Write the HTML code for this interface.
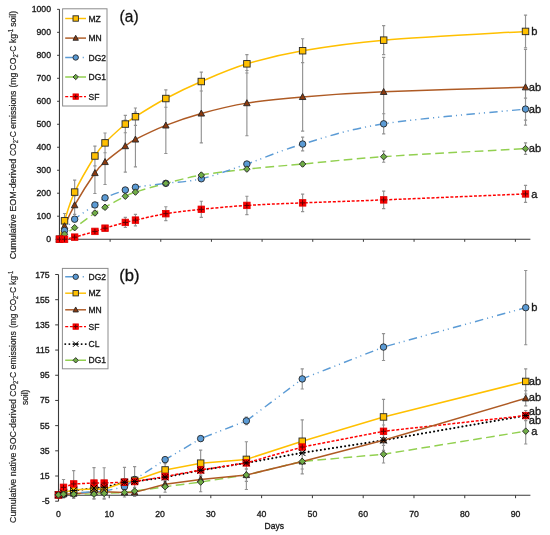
<!DOCTYPE html>
<html><head><meta charset="utf-8"><title>Cumulative CO2-C emissions</title>
<style>
html,body{margin:0;padding:0;background:#fff;}
body{width:550px;height:535px;overflow:hidden;}
svg{display:block;}
svg text{font-family:"Liberation Sans", Arial, sans-serif;fill:#1a1a1a;stroke:#1a1a1a;stroke-width:0.33px;}
svg text.t{fill:#222;stroke:#222;stroke-width:0.2px;}
svg text.p{stroke:#111;stroke-width:0.28px;fill:#111;}
</style></head><body>
<svg width="550" height="535" viewBox="0 0 550 535">
<rect width="550" height="535" fill="#fff"/>
<path d="M59.45,9.35V239.2H530.4" fill="none" stroke="#3a3a3a" stroke-width="1.1"/>
<path d="M57.1,239.20H59.45M57.1,216.21H59.45M57.1,193.23H59.45M57.1,170.25H59.45M57.1,147.26H59.45M57.1,124.27H59.45M57.1,101.29H59.45M57.1,78.30H59.45M57.1,55.32H59.45M57.1,32.33H59.45M57.1,9.35H59.45M110.11,239.2V241.8M160.77,239.2V241.8M211.43,239.2V241.8M262.09,239.2V241.8M312.75,239.2V241.8M363.41,239.2V241.8M414.07,239.2V241.8M464.73,239.2V241.8M515.39,239.2V241.8" stroke="#3a3a3a" stroke-width="1"/>
<text x="51.00" y="242.20" font-size="8.70" text-anchor="end">0</text>
<text x="51.00" y="219.21" font-size="8.70" text-anchor="end">100</text>
<text x="51.00" y="196.23" font-size="8.70" text-anchor="end">200</text>
<text x="51.00" y="173.25" font-size="8.70" text-anchor="end">300</text>
<text x="51.00" y="150.26" font-size="8.70" text-anchor="end">400</text>
<text x="51.00" y="127.27" font-size="8.70" text-anchor="end">500</text>
<text x="51.00" y="104.29" font-size="8.70" text-anchor="end">600</text>
<text x="51.00" y="81.30" font-size="8.70" text-anchor="end">700</text>
<text x="51.00" y="58.32" font-size="8.70" text-anchor="end">800</text>
<text x="51.00" y="35.33" font-size="8.70" text-anchor="end">900</text>
<text x="51.00" y="12.35" font-size="8.70" text-anchor="end">1000</text>
<path d="M64.52,238.51V239.89M62.92,238.51H66.12M62.92,239.89H66.12M74.65,235.98V238.28M73.05,235.98H76.25M73.05,238.28H76.25M94.91,229.55V233.22M93.31,229.55H96.51M93.31,233.22H96.51M105.04,225.87V230.47M103.44,225.87H106.64M103.44,230.47H106.64M125.31,217.36V227.48M123.71,217.36H126.91M123.71,227.48H126.91M135.44,214.38V225.87M133.84,214.38H137.04M133.84,225.87H137.04M165.84,206.79V220.58M164.24,206.79H167.44M164.24,220.58H167.44M201.30,201.27V217.36M199.70,201.27H202.90M199.70,217.36H202.90M246.89,196.22V214.61M245.29,196.22H248.49M245.29,214.61H248.49M302.62,194.15V211.62M301.02,194.15H304.22M301.02,211.62H304.22M383.67,191.16V208.63M382.07,191.16H385.27M382.07,208.63H385.27M525.52,185.42V202.42M523.92,185.42H527.12M523.92,202.42H527.12M64.52,232.99V235.29M62.92,232.99H66.12M62.92,235.29H66.12M74.65,226.56V228.86M73.05,226.56H76.25M73.05,228.86H76.25M94.91,211.16V214.84M93.31,211.16H96.51M93.31,214.84H96.51M105.04,205.41V209.09M103.44,205.41H106.64M103.44,209.09H106.64M125.31,194.38V198.06M123.71,194.38H126.91M123.71,198.06H126.91M135.44,190.24V193.92M133.84,190.24H137.04M133.84,193.92H137.04M165.84,182.20V184.50M164.24,182.20H167.44M164.24,184.50H167.44M201.30,173.23V176.91M199.70,173.23H202.90M199.70,176.91H202.90M246.89,167.26V170.93M245.29,167.26H248.49M245.29,170.93H248.49M302.62,161.74V166.34M301.02,161.74H304.22M301.02,166.34H304.22M383.67,151.17V162.20M382.07,151.17H385.27M382.07,162.20H385.27M525.52,142.89V154.39M523.92,142.89H527.12M523.92,154.39H527.12M64.52,228.63V232.30M62.92,228.63H66.12M62.92,232.30H66.12M74.65,216.90V221.50M73.05,216.90H76.25M73.05,221.50H76.25M94.91,202.65V207.25M93.31,202.65H96.51M93.31,207.25H96.51M105.04,195.53V200.13M103.44,195.53H106.64M103.44,200.13H106.64M125.31,187.71V192.31M123.71,187.71H126.91M123.71,192.31H126.91M135.44,184.96V189.55M133.84,184.96H137.04M133.84,189.55H137.04M165.84,182.20V184.50M164.24,182.20H167.44M164.24,184.50H167.44M201.30,177.60V179.90M199.70,177.60H202.90M199.70,179.90H202.90M246.89,162.20V165.88M245.29,162.20H248.49M245.29,165.88H248.49M302.62,137.15V150.94M301.02,137.15H304.22M301.02,150.94H304.22M383.67,113.70V133.93M382.07,113.70H385.27M382.07,133.93H385.27M525.52,98.07V120.14M523.92,98.07H527.12M523.92,120.14H527.12M64.52,221.50V230.70M62.92,221.50H66.12M62.92,230.70H66.12M74.65,195.99V214.38M73.05,195.99H76.25M73.05,214.38H76.25M94.91,152.55V193.46M93.31,152.55H96.51M93.31,193.46H96.51M105.04,139.45V184.50M103.44,139.45H106.64M103.44,184.50H106.64M125.31,120.14V172.08M123.71,120.14H126.91M123.71,172.08H126.91M135.44,112.09V166.80M133.84,112.09H137.04M133.84,166.80H137.04M165.84,97.38V153.47M164.24,97.38H167.44M164.24,153.47H167.44M201.30,84.05V142.89M199.70,84.05H202.90M199.70,142.89H202.90M246.89,70.49V135.77M245.29,70.49H248.49M245.29,135.77H248.49M302.62,62.68V131.17M301.02,62.68H304.22M301.02,131.17H304.22M383.67,57.39V126.34M382.07,57.39H385.27M382.07,126.34H385.27M525.52,49.34V125.19M523.92,49.34H527.12M523.92,125.19H527.12M64.52,213.46V228.17M62.92,213.46H66.12M62.92,228.17H66.12M74.65,180.13V204.03M73.05,180.13H76.25M73.05,204.03H76.25M94.91,146.11V165.88M93.31,146.11H96.51M93.31,165.88H96.51M105.04,133.01V152.78M103.44,133.01H106.64M103.44,152.78H106.64M125.31,115.31V132.78M123.71,115.31H126.91M123.71,132.78H126.91M135.44,107.96V125.42M133.84,107.96H137.04M133.84,125.42H137.04M165.84,89.80V107.27M164.24,89.80H167.44M164.24,107.27H167.44M201.30,72.10V90.95M199.70,72.10H202.90M199.70,90.95H202.90M246.89,54.63V73.02M245.29,54.63H248.49M245.29,73.02H248.49M302.62,38.77V62.68M301.02,38.77H304.22M301.02,62.68H304.22M383.67,25.67V54.63M382.07,25.67H385.27M382.07,54.63H385.27M525.52,15.10V47.73M523.92,15.10H527.12M523.92,47.73H527.12" stroke="#939393" stroke-width="1.15" fill="none"/>
<path d="M59.45,239.20 C60.29,239.20 61.98,239.54 64.52,239.20 C67.05,238.86 69.58,238.43 74.65,237.13 C79.71,235.83 89.85,232.88 94.91,231.39 C99.98,229.89 99.98,229.66 105.04,228.17 C110.11,226.67 120.24,223.76 125.31,222.42 C130.37,221.08 128.69,221.58 135.44,220.12 C142.19,218.67 154.86,215.49 165.84,213.69 C176.81,211.89 187.79,210.70 201.30,209.32 C214.81,207.94 230.01,206.48 246.89,205.41 C263.78,204.34 279.82,203.80 302.62,202.88 C325.41,201.96 346.52,201.39 383.67,199.90 C420.82,198.40 501.88,194.92 525.52,193.92" fill="none" stroke="#FF0000" stroke-width="1.50" stroke-dasharray="3 1.7" stroke-linecap="butt"/>
<path d="M59.45,239.20 C60.29,238.36 61.98,236.06 64.52,234.14 C67.05,232.23 69.58,231.23 74.65,227.71 C79.71,224.18 89.85,216.41 94.91,213.00 C99.98,209.59 99.98,210.05 105.04,207.25 C110.11,204.45 120.24,198.75 125.31,196.22 C130.37,193.69 128.69,194.23 135.44,192.08 C142.19,189.94 154.86,186.18 165.84,183.35 C176.81,180.51 187.79,177.45 201.30,175.07 C214.81,172.70 230.01,170.93 246.89,169.10 C263.78,167.26 279.82,166.11 302.62,164.04 C325.41,161.97 346.52,159.25 383.67,156.68 C420.82,154.12 501.88,149.98 525.52,148.64" fill="none" stroke="#92D050" stroke-width="1.45" stroke-dasharray="8.7 4.4" stroke-linecap="butt"/>
<path d="M59.45,239.20 C60.29,237.74 61.98,233.80 64.52,230.47 C67.05,227.13 69.58,223.46 74.65,219.20 C79.71,214.95 89.85,208.52 94.91,204.95 C99.98,201.39 99.98,200.32 105.04,197.83 C110.11,195.34 120.24,191.77 125.31,190.01 C130.37,188.25 128.69,188.36 135.44,187.25 C142.19,186.14 154.86,184.76 165.84,183.35 C176.81,181.93 187.79,181.97 201.30,178.75 C214.81,175.53 230.01,169.82 246.89,164.04 C263.78,158.25 279.82,150.75 302.62,144.04 C325.41,137.34 346.52,129.64 383.67,123.82 C420.82,117.99 501.88,111.56 525.52,109.10" fill="none" stroke="#5B9BD5" stroke-width="1.45" stroke-dasharray="8.5 4 1.1 3.9 1.1 4.3" stroke-linecap="butt"/>
<path d="M59.45,239.20 C60.29,237.02 61.98,231.77 64.52,226.10 C67.05,220.43 69.58,214.03 74.65,205.18 C79.71,196.33 89.85,180.21 94.91,173.00 C99.98,165.80 99.98,166.45 105.04,161.97 C110.11,157.49 120.24,149.86 125.31,146.11 C130.37,142.36 128.69,142.89 135.44,139.45 C142.19,136.00 154.86,129.75 165.84,125.42 C176.81,121.10 187.79,117.19 201.30,113.47 C214.81,109.76 230.01,105.89 246.89,103.13 C263.78,100.37 279.82,98.80 302.62,96.92 C325.41,95.05 346.52,93.48 383.67,91.87 C420.82,90.26 501.88,88.04 525.52,87.27" fill="none" stroke="#AE5A24" stroke-width="1.50" stroke-linecap="butt"/>
<path d="M59.45,239.20 C60.29,236.14 61.98,228.67 64.52,220.81 C67.05,212.96 69.58,202.88 74.65,192.08 C79.71,181.28 89.85,164.19 94.91,155.99 C99.98,147.80 99.98,148.22 105.04,142.89 C110.11,137.57 120.24,128.41 125.31,124.05 C130.37,119.68 128.69,120.94 135.44,116.69 C142.19,112.44 154.86,104.39 165.84,98.53 C176.81,92.67 187.79,87.31 201.30,81.52 C214.81,75.74 230.01,68.96 246.89,63.82 C263.78,58.69 279.82,54.67 302.62,50.72 C325.41,46.78 346.52,43.37 383.67,40.15 C420.82,36.93 501.88,32.87 525.52,31.42" fill="none" stroke="#FFC000" stroke-width="1.50" stroke-linecap="butt"/>
<rect x="56.20" y="235.95" width="6.50" height="6.50" fill="#FFC000" stroke="#262626" stroke-width="0.9"/><rect x="61.27" y="217.56" width="6.50" height="6.50" fill="#FFC000" stroke="#262626" stroke-width="0.9"/><rect x="71.40" y="188.83" width="6.50" height="6.50" fill="#FFC000" stroke="#262626" stroke-width="0.9"/><rect x="91.66" y="152.74" width="6.50" height="6.50" fill="#FFC000" stroke="#262626" stroke-width="0.9"/><rect x="101.79" y="139.64" width="6.50" height="6.50" fill="#FFC000" stroke="#262626" stroke-width="0.9"/><rect x="122.06" y="120.80" width="6.50" height="6.50" fill="#FFC000" stroke="#262626" stroke-width="0.9"/><rect x="132.19" y="113.44" width="6.50" height="6.50" fill="#FFC000" stroke="#262626" stroke-width="0.9"/><rect x="162.59" y="95.28" width="6.50" height="6.50" fill="#FFC000" stroke="#262626" stroke-width="0.9"/><rect x="198.05" y="78.27" width="6.50" height="6.50" fill="#FFC000" stroke="#262626" stroke-width="0.9"/><rect x="243.64" y="60.57" width="6.50" height="6.50" fill="#FFC000" stroke="#262626" stroke-width="0.9"/><rect x="299.37" y="47.47" width="6.50" height="6.50" fill="#FFC000" stroke="#262626" stroke-width="0.9"/><rect x="380.42" y="36.90" width="6.50" height="6.50" fill="#FFC000" stroke="#262626" stroke-width="0.9"/><rect x="522.27" y="28.17" width="6.50" height="6.50" fill="#FFC000" stroke="#262626" stroke-width="0.9"/>
<path d="M59.45,235.79L62.70,241.80L56.20,241.80Z" fill="#8B3A0F" stroke="#262626" stroke-width="0.9"/><path d="M64.52,222.69L67.77,228.70L61.27,228.70Z" fill="#8B3A0F" stroke="#262626" stroke-width="0.9"/><path d="M74.65,201.77L77.90,207.78L71.40,207.78Z" fill="#8B3A0F" stroke="#262626" stroke-width="0.9"/><path d="M94.91,169.59L98.16,175.60L91.66,175.60Z" fill="#8B3A0F" stroke="#262626" stroke-width="0.9"/><path d="M105.04,158.56L108.29,164.57L101.79,164.57Z" fill="#8B3A0F" stroke="#262626" stroke-width="0.9"/><path d="M125.31,142.70L128.56,148.71L122.06,148.71Z" fill="#8B3A0F" stroke="#262626" stroke-width="0.9"/><path d="M135.44,136.03L138.69,142.05L132.19,142.05Z" fill="#8B3A0F" stroke="#262626" stroke-width="0.9"/><path d="M165.84,122.01L169.09,128.02L162.59,128.02Z" fill="#8B3A0F" stroke="#262626" stroke-width="0.9"/><path d="M201.30,110.06L204.55,116.07L198.05,116.07Z" fill="#8B3A0F" stroke="#262626" stroke-width="0.9"/><path d="M246.89,99.72L250.14,105.73L243.64,105.73Z" fill="#8B3A0F" stroke="#262626" stroke-width="0.9"/><path d="M302.62,93.51L305.87,99.52L299.37,99.52Z" fill="#8B3A0F" stroke="#262626" stroke-width="0.9"/><path d="M383.67,88.45L386.92,94.47L380.42,94.47Z" fill="#8B3A0F" stroke="#262626" stroke-width="0.9"/><path d="M525.52,83.86L528.77,89.87L522.27,89.87Z" fill="#8B3A0F" stroke="#262626" stroke-width="0.9"/>
<circle cx="59.45" cy="239.20" r="3.25" fill="#5B9BD5" stroke="#262626" stroke-width="0.9"/><circle cx="64.52" cy="230.47" r="3.25" fill="#5B9BD5" stroke="#262626" stroke-width="0.9"/><circle cx="74.65" cy="219.20" r="3.25" fill="#5B9BD5" stroke="#262626" stroke-width="0.9"/><circle cx="94.91" cy="204.95" r="3.25" fill="#5B9BD5" stroke="#262626" stroke-width="0.9"/><circle cx="105.04" cy="197.83" r="3.25" fill="#5B9BD5" stroke="#262626" stroke-width="0.9"/><circle cx="125.31" cy="190.01" r="3.25" fill="#5B9BD5" stroke="#262626" stroke-width="0.9"/><circle cx="135.44" cy="187.25" r="3.25" fill="#5B9BD5" stroke="#262626" stroke-width="0.9"/><circle cx="165.84" cy="183.35" r="3.25" fill="#5B9BD5" stroke="#262626" stroke-width="0.9"/><circle cx="201.30" cy="178.75" r="3.25" fill="#5B9BD5" stroke="#262626" stroke-width="0.9"/><circle cx="246.89" cy="164.04" r="3.25" fill="#5B9BD5" stroke="#262626" stroke-width="0.9"/><circle cx="302.62" cy="144.04" r="3.25" fill="#5B9BD5" stroke="#262626" stroke-width="0.9"/><circle cx="383.67" cy="123.82" r="3.25" fill="#5B9BD5" stroke="#262626" stroke-width="0.9"/><circle cx="525.52" cy="109.10" r="3.25" fill="#5B9BD5" stroke="#262626" stroke-width="0.9"/>
<path d="M59.45,235.95L62.70,239.20L59.45,242.45L56.20,239.20Z" fill="#70AD47" stroke="#262626" stroke-width="0.9"/><path d="M64.52,230.89L67.77,234.14L64.52,237.39L61.27,234.14Z" fill="#70AD47" stroke="#262626" stroke-width="0.9"/><path d="M74.65,224.46L77.90,227.71L74.65,230.96L71.40,227.71Z" fill="#70AD47" stroke="#262626" stroke-width="0.9"/><path d="M94.91,209.75L98.16,213.00L94.91,216.25L91.66,213.00Z" fill="#70AD47" stroke="#262626" stroke-width="0.9"/><path d="M105.04,204.00L108.29,207.25L105.04,210.50L101.79,207.25Z" fill="#70AD47" stroke="#262626" stroke-width="0.9"/><path d="M125.31,192.97L128.56,196.22L125.31,199.47L122.06,196.22Z" fill="#70AD47" stroke="#262626" stroke-width="0.9"/><path d="M135.44,188.83L138.69,192.08L135.44,195.33L132.19,192.08Z" fill="#70AD47" stroke="#262626" stroke-width="0.9"/><path d="M165.84,180.10L169.09,183.35L165.84,186.60L162.59,183.35Z" fill="#70AD47" stroke="#262626" stroke-width="0.9"/><path d="M201.30,171.82L204.55,175.07L201.30,178.32L198.05,175.07Z" fill="#70AD47" stroke="#262626" stroke-width="0.9"/><path d="M246.89,165.85L250.14,169.10L246.89,172.35L243.64,169.10Z" fill="#70AD47" stroke="#262626" stroke-width="0.9"/><path d="M302.62,160.79L305.87,164.04L302.62,167.29L299.37,164.04Z" fill="#70AD47" stroke="#262626" stroke-width="0.9"/><path d="M383.67,153.43L386.92,156.68L383.67,159.93L380.42,156.68Z" fill="#70AD47" stroke="#262626" stroke-width="0.9"/><path d="M525.52,145.39L528.77,148.64L525.52,151.89L522.27,148.64Z" fill="#70AD47" stroke="#262626" stroke-width="0.9"/>
<rect x="56.20" y="235.95" width="6.50" height="6.50" fill="#FF0000" stroke="#E00000" stroke-width="0.8"/><path d="M56.80,239.20H62.10M59.45,236.55V241.85" stroke="#5a0000" stroke-width="1"/><rect x="61.27" y="235.95" width="6.50" height="6.50" fill="#FF0000" stroke="#E00000" stroke-width="0.8"/><path d="M61.87,239.20H67.17M64.52,236.55V241.85" stroke="#5a0000" stroke-width="1"/><rect x="71.40" y="233.88" width="6.50" height="6.50" fill="#FF0000" stroke="#E00000" stroke-width="0.8"/><path d="M72.00,237.13H77.30M74.65,234.48V239.78" stroke="#5a0000" stroke-width="1"/><rect x="91.66" y="228.14" width="6.50" height="6.50" fill="#FF0000" stroke="#E00000" stroke-width="0.8"/><path d="M92.26,231.39H97.56M94.91,228.74V234.04" stroke="#5a0000" stroke-width="1"/><rect x="101.79" y="224.92" width="6.50" height="6.50" fill="#FF0000" stroke="#E00000" stroke-width="0.8"/><path d="M102.39,228.17H107.69M105.04,225.52V230.82" stroke="#5a0000" stroke-width="1"/><rect x="122.06" y="219.17" width="6.50" height="6.50" fill="#FF0000" stroke="#E00000" stroke-width="0.8"/><path d="M122.66,222.42H127.96M125.31,219.77V225.07" stroke="#5a0000" stroke-width="1"/><rect x="132.19" y="216.87" width="6.50" height="6.50" fill="#FF0000" stroke="#E00000" stroke-width="0.8"/><path d="M132.79,220.12H138.09M135.44,217.47V222.77" stroke="#5a0000" stroke-width="1"/><rect x="162.59" y="210.44" width="6.50" height="6.50" fill="#FF0000" stroke="#E00000" stroke-width="0.8"/><path d="M163.19,213.69H168.49M165.84,211.04V216.34" stroke="#5a0000" stroke-width="1"/><rect x="198.05" y="206.07" width="6.50" height="6.50" fill="#FF0000" stroke="#E00000" stroke-width="0.8"/><path d="M198.65,209.32H203.95M201.30,206.67V211.97" stroke="#5a0000" stroke-width="1"/><rect x="243.64" y="202.16" width="6.50" height="6.50" fill="#FF0000" stroke="#E00000" stroke-width="0.8"/><path d="M244.24,205.41H249.54M246.89,202.76V208.06" stroke="#5a0000" stroke-width="1"/><rect x="299.37" y="199.63" width="6.50" height="6.50" fill="#FF0000" stroke="#E00000" stroke-width="0.8"/><path d="M299.97,202.88H305.27M302.62,200.23V205.53" stroke="#5a0000" stroke-width="1"/><rect x="380.42" y="196.65" width="6.50" height="6.50" fill="#FF0000" stroke="#E00000" stroke-width="0.8"/><path d="M381.02,199.90H386.32M383.67,197.25V202.55" stroke="#5a0000" stroke-width="1"/><rect x="522.27" y="190.67" width="6.50" height="6.50" fill="#FF0000" stroke="#E00000" stroke-width="0.8"/><path d="M522.87,193.92H528.17M525.52,191.27V196.57" stroke="#5a0000" stroke-width="1"/>
<rect x="62.6" y="8.8" width="44.4" height="97.2" fill="#fff" stroke="#8c8c8c" stroke-width="1"/>
<path d="M65.2,18.50H86" stroke="#FFC000" stroke-width="1.45"/>
<rect x="73.00" y="15.80" width="5.40" height="5.40" fill="#FFC000" stroke="#262626" stroke-width="0.9"/>
<text x="88.50" y="21.60" font-size="8.50" text-anchor="start">MZ</text>
<path d="M65.2,38.10H86" stroke="#AE5A24" stroke-width="1.45"/>
<path d="M75.70,35.27L78.40,40.26L73.00,40.26Z" fill="#8B3A0F" stroke="#262626" stroke-width="0.9"/>
<text x="88.50" y="41.20" font-size="8.50" text-anchor="start">MN</text>
<path d="M65.2,57.50H86" stroke="#5B9BD5" stroke-width="1.45" stroke-dasharray="8.5 4 1.1 3.9 1.1 4.3"/>
<circle cx="75.70" cy="57.50" r="2.70" fill="#5B9BD5" stroke="#262626" stroke-width="0.9"/>
<text x="88.50" y="60.60" font-size="8.50" text-anchor="start">DG2</text>
<path d="M65.2,77.00H86" stroke="#92D050" stroke-width="1.45" stroke-dasharray="8.7 4.4"/>
<path d="M75.70,74.30L78.40,77.00L75.70,79.70L73.00,77.00Z" fill="#70AD47" stroke="#262626" stroke-width="0.9"/>
<text x="88.50" y="80.10" font-size="8.50" text-anchor="start">DG1</text>
<path d="M65.2,96.60H86" stroke="#FF0000" stroke-width="1.40" stroke-dasharray="3 1.7"/>
<rect x="73.00" y="93.90" width="5.40" height="5.40" fill="#FF0000" stroke="#E00000" stroke-width="0.8"/><path d="M73.60,96.60H77.80M75.70,94.50V98.70" stroke="#5a0000" stroke-width="1"/>
<text x="88.50" y="99.70" font-size="8.50" text-anchor="start">SF</text>
<text x="119.60" y="22.40" font-size="16.80" text-anchor="start" class="p" textLength="19" lengthAdjust="spacingAndGlyphs">(a)</text>
<text x="531.20" y="35.12" font-size="10.90" text-anchor="start" textLength="6.2" lengthAdjust="spacingAndGlyphs">b</text>
<text x="528.80" y="90.97" font-size="10.90" text-anchor="start" textLength="12.4" lengthAdjust="spacingAndGlyphs">ab</text>
<text x="528.80" y="112.80" font-size="10.90" text-anchor="start" textLength="12.4" lengthAdjust="spacingAndGlyphs">ab</text>
<text x="528.80" y="152.34" font-size="10.90" text-anchor="start" textLength="12.4" lengthAdjust="spacingAndGlyphs">ab</text>
<text x="531.20" y="197.62" font-size="10.90" text-anchor="start" textLength="6.2" lengthAdjust="spacingAndGlyphs">a</text>
<text class="t" transform="translate(16.30,259.30) rotate(-90)" font-size="9.80" textLength="100.60" lengthAdjust="spacingAndGlyphs">Cumulative EOM-derived</text>
<text class="t" transform="translate(16.30,156.10) rotate(-90)" font-size="9.80" textLength="65.30" lengthAdjust="spacingAndGlyphs">CO<tspan font-size="6.5" dy="1.9">2</tspan><tspan dy="-1.9">-C emissions</tspan></text>
<text class="t" transform="translate(16.30,87.50) rotate(-90)" font-size="9.80" textLength="76.50" lengthAdjust="spacingAndGlyphs">(mg CO<tspan font-size="6.5" dy="1.9">2</tspan><tspan dy="-1.9">-C kg</tspan><tspan font-size="6.5" dy="-3.4">-1</tspan><tspan dy="3.4"> soil)</tspan></text>
<path d="M58.5,274.5V501.2" fill="none" stroke="#3a3a3a" stroke-width="1.1"/>
<path d="M58.5,495.2H530.4" fill="none" stroke="#3a3a3a" stroke-width="1.1"/>
<path d="M55.2,501.20H58.5M55.2,476.01H58.5M55.2,450.82H58.5M55.2,425.63H58.5M55.2,400.44H58.5M55.2,375.26H58.5M55.2,350.07H58.5M55.2,324.88H58.5M55.2,299.69H58.5M55.2,274.50H58.5M109.24,495.2V498.2M160.03,495.2V498.2M210.82,495.2V498.2M261.61,495.2V498.2M312.40,495.2V498.2M363.19,495.2V498.2M413.98,495.2V498.2M464.77,495.2V498.2M515.56,495.2V498.2" stroke="#3a3a3a" stroke-width="1"/>
<text x="49.70" y="504.20" font-size="8.70" text-anchor="end">-5</text>
<text x="49.70" y="479.01" font-size="8.70" text-anchor="end">15</text>
<text x="49.70" y="453.82" font-size="8.70" text-anchor="end">35</text>
<text x="49.70" y="428.63" font-size="8.70" text-anchor="end">55</text>
<text x="49.70" y="403.44" font-size="8.70" text-anchor="end">75</text>
<text x="49.70" y="378.26" font-size="8.70" text-anchor="end">95</text>
<text x="49.70" y="353.07" font-size="8.70" text-anchor="end">115</text>
<text x="49.70" y="327.88" font-size="8.70" text-anchor="end">135</text>
<text x="49.70" y="302.69" font-size="8.70" text-anchor="end">155</text>
<text x="49.70" y="277.50" font-size="8.70" text-anchor="end">175</text>
<text x="58.45" y="517.30" font-size="8.70" text-anchor="middle">0</text>
<text x="109.24" y="517.30" font-size="8.70" text-anchor="middle">10</text>
<text x="160.03" y="517.30" font-size="8.70" text-anchor="middle">20</text>
<text x="210.82" y="517.30" font-size="8.70" text-anchor="middle">30</text>
<text x="261.61" y="517.30" font-size="8.70" text-anchor="middle">40</text>
<text x="312.40" y="517.30" font-size="8.70" text-anchor="middle">50</text>
<text x="363.19" y="517.30" font-size="8.70" text-anchor="middle">60</text>
<text x="413.98" y="517.30" font-size="8.70" text-anchor="middle">70</text>
<text x="464.77" y="517.30" font-size="8.70" text-anchor="middle">80</text>
<text x="515.56" y="517.30" font-size="8.70" text-anchor="middle">90</text>
<text x="274.30" y="529.00" font-size="8.50" text-anchor="middle">Days</text>
<path d="M63.53,490.37V497.92M61.93,490.37H65.13M61.93,497.92H65.13M73.69,489.99V498.30M72.09,489.99H75.29M72.09,498.30H75.29M94.00,489.23V499.06M92.40,489.23H95.60M92.40,499.06H95.60M104.16,487.60V499.18M102.56,487.60H105.76M102.56,499.18H105.76M124.48,487.97V497.04M122.88,487.97H126.08M122.88,497.04H126.08M134.63,487.34V494.90M133.03,487.34H136.23M133.03,494.90H136.23M165.11,481.17V492.26M163.51,481.17H166.71M163.51,492.26H166.71M200.66,472.36V491.75M199.06,472.36H202.26M199.06,491.75H202.26M246.37,460.52V489.48M244.77,460.52H247.97M244.77,489.48H247.97M302.24,448.93V473.87M300.64,448.93H303.84M300.64,473.87H303.84M383.51,445.41V463.04M381.91,445.41H385.11M381.91,463.04H385.11M525.72,418.33V444.02M524.12,418.33H527.32M524.12,444.02H527.32M63.53,479.54V495.15M61.93,479.54H65.13M61.93,495.15H65.13M73.69,470.59V497.29M72.09,470.59H75.29M72.09,497.29H75.29M94.00,467.57V498.55M92.40,467.57H95.60M92.40,498.55H95.60M104.16,467.70V498.43M102.56,467.70H105.76M102.56,498.43H105.76M124.48,467.32V497.04M122.88,467.32H126.08M122.88,497.04H126.08M134.63,466.69V496.41M133.03,466.69H136.23M133.03,496.41H136.23M165.11,471.48V481.55M163.51,471.48H166.71M163.51,481.55H166.71M200.66,464.93V475.00M199.06,464.93H202.26M199.06,475.00H202.26M246.37,456.61V469.21M244.77,456.61H247.97M244.77,469.21H247.97M302.24,439.49V454.60M300.64,439.49H303.84M300.64,454.60H303.84M383.51,425.00V437.60M381.91,425.00H385.11M381.91,437.60H385.11M525.72,410.52V420.60M524.12,410.52H527.32M524.12,420.60H527.32M63.53,493.01V495.53M61.93,493.01H65.13M61.93,495.53H65.13M73.69,492.38V494.90M72.09,492.38H75.29M72.09,494.90H75.29M94.00,489.48V494.52M92.40,489.48H95.60M92.40,494.52H95.60M104.16,489.23V494.27M102.56,489.23H105.76M102.56,494.27H105.76M124.48,489.86V494.90M122.88,489.86H126.08M122.88,494.90H126.08M134.63,489.86V494.90M133.03,489.86H136.23M133.03,494.90H136.23M165.11,480.54V488.10M163.51,480.54H166.71M163.51,488.10H166.71M200.66,475.63V483.19M199.06,475.63H202.26M199.06,483.19H202.26M246.37,468.70V481.30M244.77,468.70H247.97M244.77,481.30H247.97M302.24,453.84V468.96M300.64,453.84H303.84M300.64,468.96H303.84M383.51,430.17V450.32M381.91,430.17H385.11M381.91,450.32H385.11M525.72,390.75V405.86M524.12,390.75H527.32M524.12,405.86H527.32M63.53,489.86V494.90M61.93,489.86H65.13M61.93,494.90H65.13M73.69,486.08V493.64M72.09,486.08H75.29M72.09,493.64H75.29M94.00,485.20V492.76M92.40,485.20H95.60M92.40,492.76H95.60M104.16,485.45V493.01M102.56,485.45H105.76M102.56,493.01H105.76M124.48,478.53V486.08M122.88,478.53H126.08M122.88,486.08H126.08M134.63,476.64V484.20M133.03,476.64H136.23M133.03,484.20H136.23M165.11,463.67V476.26M163.51,463.67H166.71M163.51,476.26H166.71M200.66,450.07V476.26M199.06,450.07H202.26M199.06,476.26H202.26M246.37,441.75V477.02M244.77,441.75H247.97M244.77,477.02H247.97M302.24,419.84V462.66M300.64,419.84H303.84M300.64,462.66H303.84M383.51,399.31V434.57M381.91,399.31H385.11M381.91,434.57H385.11M525.72,368.83V394.02M524.12,368.83H527.32M524.12,394.02H527.32M63.53,493.01V495.53M61.93,493.01H65.13M61.93,495.53H65.13M73.69,491.75V494.27M72.09,491.75H75.29M72.09,494.27H75.29M94.00,490.49V493.01M92.40,490.49H95.60M92.40,493.01H95.60M104.16,489.86V492.38M102.56,489.86H105.76M102.56,492.38H105.76M124.48,484.32V489.36M122.88,484.32H126.08M122.88,489.36H126.08M134.63,477.02V482.05M133.03,477.02H136.23M133.03,482.05H136.23M165.11,457.12V462.16M163.51,457.12H166.71M163.51,462.16H166.71M200.66,436.09V441.12M199.06,436.09H202.26M199.06,441.12H202.26M246.37,417.07V424.63M244.77,417.07H247.97M244.77,424.63H247.97M302.24,368.83V388.98M300.64,368.83H303.84M300.64,388.98H303.84M383.51,333.57V360.52M381.91,333.57H385.11M381.91,360.52H385.11M525.72,270.47V344.78M524.12,270.47H527.32M524.12,344.78H527.32" stroke="#939393" stroke-width="1.15" fill="none"/>
<path d="M58.45,494.90 L63.53,494.14 L73.69,494.14 L94.00,494.14 L104.16,493.39 L124.48,492.51 L134.63,491.12 L165.11,486.71 L200.66,482.05 L246.37,475.00 L302.24,461.40 L383.51,454.22 L525.72,431.17" fill="none" stroke="#92D050" stroke-width="1.45" stroke-linejoin="round" stroke-dasharray="8.7 4.4" stroke-linecap="butt"/>
<path d="M58.45,494.90 L63.53,493.01 L73.69,490.49 L94.00,487.97 L104.16,487.34 L124.48,482.31 L134.63,481.55 L165.11,477.27 L200.66,470.34 L246.37,462.91 L302.24,452.84 L383.51,440.24 L525.72,415.56" fill="none" stroke="#000000" stroke-width="2.00" stroke-linejoin="round" stroke-dasharray="0.1 4" stroke-linecap="round"/>
<path d="M58.45,494.90 L63.53,487.34 L73.69,483.94 L94.00,483.06 L104.16,483.06 L124.48,482.18 L134.63,481.55 L165.11,476.51 L200.66,469.96 L246.37,462.91 L302.24,447.04 L383.51,431.30 L525.72,415.56" fill="none" stroke="#FF0000" stroke-width="1.50" stroke-linejoin="round" stroke-dasharray="3 1.7" stroke-linecap="butt"/>
<path d="M58.45,494.90 L63.53,494.27 L73.69,493.64 L94.00,492.00 L104.16,491.75 L124.48,492.38 L134.63,492.38 L165.11,484.32 L200.66,479.41 L246.37,475.00 L302.24,461.40 L383.51,440.24 L525.72,398.30" fill="none" stroke="#AE5A24" stroke-width="1.50" stroke-linejoin="round" stroke-linecap="butt"/>
<path d="M58.45,494.90 L63.53,492.38 L73.69,489.86 L94.00,488.98 L104.16,489.23 L124.48,482.31 L134.63,480.42 L165.11,469.96 L200.66,463.16 L246.37,459.38 L302.24,441.25 L383.51,416.94 L525.72,381.43" fill="none" stroke="#FFC000" stroke-width="1.50" stroke-linejoin="round" stroke-linecap="butt"/>
<path d="M58.45,494.90 L63.53,494.27 L73.69,493.01 L94.00,491.75 L104.16,491.12 L124.48,486.84 L134.63,479.54 L165.11,459.64 L200.66,438.60 L246.37,420.85 L302.24,378.91 L383.51,347.05 L525.72,307.63" fill="none" stroke="#5B9BD5" stroke-width="1.45" stroke-linejoin="round" stroke-dasharray="8.5 4 1.1 3.9 1.1 4.3" stroke-linecap="butt"/>
<circle cx="58.45" cy="494.90" r="3.25" fill="#5B9BD5" stroke="#262626" stroke-width="0.9"/><circle cx="63.53" cy="494.27" r="3.25" fill="#5B9BD5" stroke="#262626" stroke-width="0.9"/><circle cx="73.69" cy="493.01" r="3.25" fill="#5B9BD5" stroke="#262626" stroke-width="0.9"/><circle cx="94.00" cy="491.75" r="3.25" fill="#5B9BD5" stroke="#262626" stroke-width="0.9"/><circle cx="104.16" cy="491.12" r="3.25" fill="#5B9BD5" stroke="#262626" stroke-width="0.9"/><circle cx="124.48" cy="486.84" r="3.25" fill="#5B9BD5" stroke="#262626" stroke-width="0.9"/><circle cx="134.63" cy="479.54" r="3.25" fill="#5B9BD5" stroke="#262626" stroke-width="0.9"/><circle cx="165.11" cy="459.64" r="3.25" fill="#5B9BD5" stroke="#262626" stroke-width="0.9"/><circle cx="200.66" cy="438.60" r="3.25" fill="#5B9BD5" stroke="#262626" stroke-width="0.9"/><circle cx="246.37" cy="420.85" r="3.25" fill="#5B9BD5" stroke="#262626" stroke-width="0.9"/><circle cx="302.24" cy="378.91" r="3.25" fill="#5B9BD5" stroke="#262626" stroke-width="0.9"/><circle cx="383.51" cy="347.05" r="3.25" fill="#5B9BD5" stroke="#262626" stroke-width="0.9"/><circle cx="525.72" cy="307.63" r="3.25" fill="#5B9BD5" stroke="#262626" stroke-width="0.9"/>
<rect x="55.20" y="491.65" width="6.50" height="6.50" fill="#FFC000" stroke="#262626" stroke-width="0.9"/><rect x="60.28" y="489.13" width="6.50" height="6.50" fill="#FFC000" stroke="#262626" stroke-width="0.9"/><rect x="70.44" y="486.61" width="6.50" height="6.50" fill="#FFC000" stroke="#262626" stroke-width="0.9"/><rect x="90.75" y="485.73" width="6.50" height="6.50" fill="#FFC000" stroke="#262626" stroke-width="0.9"/><rect x="100.91" y="485.98" width="6.50" height="6.50" fill="#FFC000" stroke="#262626" stroke-width="0.9"/><rect x="121.23" y="479.06" width="6.50" height="6.50" fill="#FFC000" stroke="#262626" stroke-width="0.9"/><rect x="131.38" y="477.17" width="6.50" height="6.50" fill="#FFC000" stroke="#262626" stroke-width="0.9"/><rect x="161.86" y="466.71" width="6.50" height="6.50" fill="#FFC000" stroke="#262626" stroke-width="0.9"/><rect x="197.41" y="459.91" width="6.50" height="6.50" fill="#FFC000" stroke="#262626" stroke-width="0.9"/><rect x="243.12" y="456.13" width="6.50" height="6.50" fill="#FFC000" stroke="#262626" stroke-width="0.9"/><rect x="298.99" y="438.00" width="6.50" height="6.50" fill="#FFC000" stroke="#262626" stroke-width="0.9"/><rect x="380.26" y="413.69" width="6.50" height="6.50" fill="#FFC000" stroke="#262626" stroke-width="0.9"/><rect x="522.47" y="378.18" width="6.50" height="6.50" fill="#FFC000" stroke="#262626" stroke-width="0.9"/>
<path d="M58.45,491.49L61.70,497.50L55.20,497.50Z" fill="#8B3A0F" stroke="#262626" stroke-width="0.9"/><path d="M63.53,490.86L66.78,496.87L60.28,496.87Z" fill="#8B3A0F" stroke="#262626" stroke-width="0.9"/><path d="M73.69,490.23L76.94,496.24L70.44,496.24Z" fill="#8B3A0F" stroke="#262626" stroke-width="0.9"/><path d="M94.00,488.59L97.25,494.60L90.75,494.60Z" fill="#8B3A0F" stroke="#262626" stroke-width="0.9"/><path d="M104.16,488.34L107.41,494.35L100.91,494.35Z" fill="#8B3A0F" stroke="#262626" stroke-width="0.9"/><path d="M124.48,488.97L127.73,494.98L121.23,494.98Z" fill="#8B3A0F" stroke="#262626" stroke-width="0.9"/><path d="M134.63,488.97L137.88,494.98L131.38,494.98Z" fill="#8B3A0F" stroke="#262626" stroke-width="0.9"/><path d="M165.11,480.91L168.36,486.92L161.86,486.92Z" fill="#8B3A0F" stroke="#262626" stroke-width="0.9"/><path d="M200.66,476.00L203.91,482.01L197.41,482.01Z" fill="#8B3A0F" stroke="#262626" stroke-width="0.9"/><path d="M246.37,471.59L249.62,477.60L243.12,477.60Z" fill="#8B3A0F" stroke="#262626" stroke-width="0.9"/><path d="M302.24,457.99L305.49,464.00L298.99,464.00Z" fill="#8B3A0F" stroke="#262626" stroke-width="0.9"/><path d="M383.51,436.83L386.76,442.84L380.26,442.84Z" fill="#8B3A0F" stroke="#262626" stroke-width="0.9"/><path d="M525.72,394.89L528.97,400.90L522.47,400.90Z" fill="#8B3A0F" stroke="#262626" stroke-width="0.9"/>
<rect x="55.20" y="491.65" width="6.50" height="6.50" fill="#FF0000" stroke="#E00000" stroke-width="0.8"/><path d="M55.80,494.90H61.10M58.45,492.25V497.55" stroke="#5a0000" stroke-width="1"/><rect x="60.28" y="484.09" width="6.50" height="6.50" fill="#FF0000" stroke="#E00000" stroke-width="0.8"/><path d="M60.88,487.34H66.18M63.53,484.69V489.99" stroke="#5a0000" stroke-width="1"/><rect x="70.44" y="480.69" width="6.50" height="6.50" fill="#FF0000" stroke="#E00000" stroke-width="0.8"/><path d="M71.04,483.94H76.34M73.69,481.29V486.59" stroke="#5a0000" stroke-width="1"/><rect x="90.75" y="479.81" width="6.50" height="6.50" fill="#FF0000" stroke="#E00000" stroke-width="0.8"/><path d="M91.35,483.06H96.65M94.00,480.41V485.71" stroke="#5a0000" stroke-width="1"/><rect x="100.91" y="479.81" width="6.50" height="6.50" fill="#FF0000" stroke="#E00000" stroke-width="0.8"/><path d="M101.51,483.06H106.81M104.16,480.41V485.71" stroke="#5a0000" stroke-width="1"/><rect x="121.23" y="478.93" width="6.50" height="6.50" fill="#FF0000" stroke="#E00000" stroke-width="0.8"/><path d="M121.83,482.18H127.13M124.48,479.53V484.83" stroke="#5a0000" stroke-width="1"/><rect x="131.38" y="478.30" width="6.50" height="6.50" fill="#FF0000" stroke="#E00000" stroke-width="0.8"/><path d="M131.98,481.55H137.28M134.63,478.90V484.20" stroke="#5a0000" stroke-width="1"/><rect x="161.86" y="473.26" width="6.50" height="6.50" fill="#FF0000" stroke="#E00000" stroke-width="0.8"/><path d="M162.46,476.51H167.76M165.11,473.86V479.16" stroke="#5a0000" stroke-width="1"/><rect x="197.41" y="466.71" width="6.50" height="6.50" fill="#FF0000" stroke="#E00000" stroke-width="0.8"/><path d="M198.01,469.96H203.31M200.66,467.31V472.61" stroke="#5a0000" stroke-width="1"/><rect x="243.12" y="459.66" width="6.50" height="6.50" fill="#FF0000" stroke="#E00000" stroke-width="0.8"/><path d="M243.72,462.91H249.02M246.37,460.26V465.56" stroke="#5a0000" stroke-width="1"/><rect x="298.99" y="443.79" width="6.50" height="6.50" fill="#FF0000" stroke="#E00000" stroke-width="0.8"/><path d="M299.59,447.04H304.89M302.24,444.39V449.69" stroke="#5a0000" stroke-width="1"/><rect x="380.26" y="428.05" width="6.50" height="6.50" fill="#FF0000" stroke="#E00000" stroke-width="0.8"/><path d="M380.86,431.30H386.16M383.51,428.65V433.95" stroke="#5a0000" stroke-width="1"/><rect x="522.47" y="412.31" width="6.50" height="6.50" fill="#FF0000" stroke="#E00000" stroke-width="0.8"/><path d="M523.07,415.56H528.37M525.72,412.91V418.21" stroke="#5a0000" stroke-width="1"/>
<path d="M55.20,491.65L61.70,498.15M55.20,498.15L61.70,491.65M55.20,494.90H61.70" stroke="#000" stroke-width="1" fill="none"/><path d="M60.28,489.76L66.78,496.26M60.28,496.26L66.78,489.76M60.28,493.01H66.78" stroke="#000" stroke-width="1" fill="none"/><path d="M70.44,487.24L76.94,493.74M70.44,493.74L76.94,487.24M70.44,490.49H76.94" stroke="#000" stroke-width="1" fill="none"/><path d="M90.75,484.72L97.25,491.22M90.75,491.22L97.25,484.72M90.75,487.97H97.25" stroke="#000" stroke-width="1" fill="none"/><path d="M100.91,484.09L107.41,490.59M100.91,490.59L107.41,484.09M100.91,487.34H107.41" stroke="#000" stroke-width="1" fill="none"/><path d="M121.23,479.06L127.73,485.56M121.23,485.56L127.73,479.06M121.23,482.31H127.73" stroke="#000" stroke-width="1" fill="none"/><path d="M131.38,478.30L137.88,484.80M131.38,484.80L137.88,478.30M131.38,481.55H137.88" stroke="#000" stroke-width="1" fill="none"/><path d="M161.86,474.02L168.36,480.52M161.86,480.52L168.36,474.02M161.86,477.27H168.36" stroke="#000" stroke-width="1" fill="none"/><path d="M197.41,467.09L203.91,473.59M197.41,473.59L203.91,467.09M197.41,470.34H203.91" stroke="#000" stroke-width="1" fill="none"/><path d="M243.12,459.66L249.62,466.16M243.12,466.16L249.62,459.66M243.12,462.91H249.62" stroke="#000" stroke-width="1" fill="none"/><path d="M298.99,449.59L305.49,456.09M298.99,456.09L305.49,449.59M298.99,452.84H305.49" stroke="#000" stroke-width="1" fill="none"/><path d="M380.26,436.99L386.76,443.49M380.26,443.49L386.76,436.99M380.26,440.24H386.76" stroke="#000" stroke-width="1" fill="none"/><path d="M522.47,412.31L528.97,418.81M522.47,418.81L528.97,412.31M522.47,415.56H528.97" stroke="#000" stroke-width="1" fill="none"/>
<path d="M58.45,491.65L61.70,494.90L58.45,498.15L55.20,494.90Z" fill="#70AD47" stroke="#262626" stroke-width="0.9"/><path d="M63.53,490.89L66.78,494.14L63.53,497.39L60.28,494.14Z" fill="#70AD47" stroke="#262626" stroke-width="0.9"/><path d="M73.69,490.89L76.94,494.14L73.69,497.39L70.44,494.14Z" fill="#70AD47" stroke="#262626" stroke-width="0.9"/><path d="M94.00,490.89L97.25,494.14L94.00,497.39L90.75,494.14Z" fill="#70AD47" stroke="#262626" stroke-width="0.9"/><path d="M104.16,490.14L107.41,493.39L104.16,496.64L100.91,493.39Z" fill="#70AD47" stroke="#262626" stroke-width="0.9"/><path d="M124.48,489.26L127.73,492.51L124.48,495.76L121.23,492.51Z" fill="#70AD47" stroke="#262626" stroke-width="0.9"/><path d="M134.63,487.87L137.88,491.12L134.63,494.37L131.38,491.12Z" fill="#70AD47" stroke="#262626" stroke-width="0.9"/><path d="M165.11,483.46L168.36,486.71L165.11,489.96L161.86,486.71Z" fill="#70AD47" stroke="#262626" stroke-width="0.9"/><path d="M200.66,478.80L203.91,482.05L200.66,485.30L197.41,482.05Z" fill="#70AD47" stroke="#262626" stroke-width="0.9"/><path d="M246.37,471.75L249.62,475.00L246.37,478.25L243.12,475.00Z" fill="#70AD47" stroke="#262626" stroke-width="0.9"/><path d="M302.24,458.15L305.49,461.40L302.24,464.65L298.99,461.40Z" fill="#70AD47" stroke="#262626" stroke-width="0.9"/><path d="M383.51,450.97L386.76,454.22L383.51,457.47L380.26,454.22Z" fill="#70AD47" stroke="#262626" stroke-width="0.9"/><path d="M525.72,427.92L528.97,431.17L525.72,434.42L522.47,431.17Z" fill="#70AD47" stroke="#262626" stroke-width="0.9"/>
<rect x="62.4" y="268.4" width="45.6" height="100.4" fill="#fff" stroke="#8c8c8c" stroke-width="1"/>
<path d="M65.2,276.80H86" stroke="#5B9BD5" stroke-width="1.45" stroke-dasharray="8.5 4 1.1 3.9 1.1 4.3" stroke-linecap="butt"/>
<circle cx="75.70" cy="276.80" r="2.70" fill="#5B9BD5" stroke="#262626" stroke-width="0.9"/>
<text x="88.50" y="279.90" font-size="8.50" text-anchor="start">DG2</text>
<path d="M65.2,293.20H86" stroke="#FFC000" stroke-width="1.45" stroke-linecap="butt"/>
<rect x="73.00" y="290.50" width="5.40" height="5.40" fill="#FFC000" stroke="#262626" stroke-width="0.9"/>
<text x="88.50" y="296.30" font-size="8.50" text-anchor="start">MZ</text>
<path d="M65.2,309.80H86" stroke="#AE5A24" stroke-width="1.45" stroke-linecap="butt"/>
<path d="M75.70,306.97L78.40,311.96L73.00,311.96Z" fill="#8B3A0F" stroke="#262626" stroke-width="0.9"/>
<text x="88.50" y="312.90" font-size="8.50" text-anchor="start">MN</text>
<path d="M65.2,326.60H86" stroke="#FF0000" stroke-width="1.40" stroke-dasharray="3 1.7" stroke-linecap="butt"/>
<rect x="73.00" y="323.90" width="5.40" height="5.40" fill="#FF0000" stroke="#E00000" stroke-width="0.8"/><path d="M73.60,326.60H77.80M75.70,324.50V328.70" stroke="#5a0000" stroke-width="1"/>
<text x="88.50" y="329.70" font-size="8.50" text-anchor="start">SF</text>
<path d="M65.2,344.10H86" stroke="#000000" stroke-width="1.90" stroke-dasharray="0.1 4" stroke-linecap="round"/>
<path d="M73.00,341.40L78.40,346.80M73.00,346.80L78.40,341.40M73.00,344.10H78.40" stroke="#000" stroke-width="1" fill="none"/>
<text x="88.50" y="347.20" font-size="8.50" text-anchor="start">CL</text>
<path d="M65.2,360.30H86" stroke="#92D050" stroke-width="1.45" stroke-dasharray="8.7 4.4" stroke-linecap="butt"/>
<path d="M75.70,357.60L78.40,360.30L75.70,363.00L73.00,360.30Z" fill="#70AD47" stroke="#262626" stroke-width="0.9"/>
<text x="88.50" y="363.40" font-size="8.50" text-anchor="start">DG1</text>
<text x="119.30" y="281.00" font-size="16.80" text-anchor="start" class="p" textLength="20.3" lengthAdjust="spacingAndGlyphs">(b)</text>
<text x="531.20" y="311.33" font-size="10.90" text-anchor="start" textLength="6.2" lengthAdjust="spacingAndGlyphs">b</text>
<text x="528.80" y="385.13" font-size="10.90" text-anchor="start" textLength="12.4" lengthAdjust="spacingAndGlyphs">ab</text>
<text x="528.80" y="400.74" font-size="10.90" text-anchor="start" textLength="12.4" lengthAdjust="spacingAndGlyphs">ab</text>
<text x="528.80" y="415.23" font-size="10.90" text-anchor="start" textLength="12.4" lengthAdjust="spacingAndGlyphs">ab</text>
<text x="528.80" y="423.79" font-size="10.90" text-anchor="start" textLength="12.4" lengthAdjust="spacingAndGlyphs">ab</text>
<text x="531.20" y="434.87" font-size="10.90" text-anchor="start" textLength="6.2" lengthAdjust="spacingAndGlyphs">a</text>
<text class="t" transform="translate(16.30,523.00) rotate(-90)" font-size="9.80" textLength="124.00" lengthAdjust="spacingAndGlyphs">Cumulative native SOC-derived</text>
<text class="t" transform="translate(16.30,396.80) rotate(-90)" font-size="9.80" textLength="65.50" lengthAdjust="spacingAndGlyphs">CO<tspan font-size="6.5" dy="1.9">2</tspan><tspan dy="-1.9">-C emissions</tspan></text>
<text class="t" transform="translate(16.30,328.00) rotate(-90)" font-size="9.80" textLength="57.00" lengthAdjust="spacingAndGlyphs">(mg CO<tspan font-size="6.5" dy="1.9">2</tspan><tspan dy="-1.9">-C kg</tspan><tspan font-size="6.5" dy="-3.4">-1</tspan></text>
<text class="t" transform="translate(28.00,405.00) rotate(-90)" font-size="9.80" textLength="15.40" lengthAdjust="spacingAndGlyphs">soil)</text>
</svg>
</body></html>
